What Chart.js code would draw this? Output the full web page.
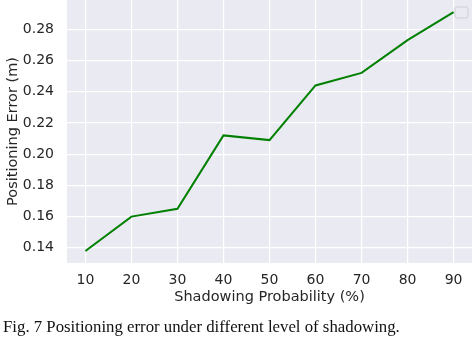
<!DOCTYPE html>
<html lang="en">
<head>
    <meta charset="UTF-8">
    <title>Positioning error vs shadowing</title>
    <script src="https://cdn.jsdelivr.net/npm/chart.js"></script>
    <style>
        html, body { margin: 0; padding: 0; background: #fff; }
        .wrap { position: relative; width: 474px; height: 338px; overflow: hidden; }
        #chartCanvas { position: absolute; left: 0; top: 0; }
        .caption {
            position: absolute; left: 3px; top: 319px;
            font-family: "Liberation Serif", "Times New Roman", serif;
            font-size: 16.8px; line-height: 1; color: #111; white-space: nowrap;
        }
    </style>
</head>
<body>
    <div class="wrap">
        <canvas id="chartCanvas" width="474" height="338"></canvas>
        <div class="caption">Fig. 7 Positioning error under different level of shadowing.</div>
    </div>
    <script>
        // Shadowing probability (%) and the positioning error measured for each
        const shadowing = [10, 20, 30, 40, 50, 60, 70, 80, 90];
        const posError = [0.138, 0.160, 0.165, 0.212, 0.209, 0.244, 0.252, 0.273, 0.291];

        const xTicks = [10, 20, 30, 40, 50, 60, 70, 80, 90];
        const yTicks = [0.14, 0.16, 0.18, 0.20, 0.22, 0.24, 0.26, 0.28];

        const textColor = '#262626';
        const tickFont = { family: 'DejaVu Sans', size: 14 };
        const titleFont = { family: 'DejaVu Sans', size: 14.5 };

        // grey panel behind the plot, like seaborn darkgrid
        const panelBg = {
            id: 'panelBg',
            beforeDraw(chart) {
                const { ctx, chartArea: a } = chart;
                ctx.save();
                ctx.fillStyle = '#EAEAF2';
                ctx.fillRect(a.left, a.top, a.right - a.left, a.bottom - a.top);
                ctx.restore();
            }
        };

        // empty legend frame in the upper right corner
        const emptyLegend = {
            id: 'emptyLegend',
            afterDraw(chart) {
                const { ctx, chartArea: a } = chart;
                const w = 13, h = 11, x = a.right - 4 - w, y = a.top + 7;
                ctx.save();
                ctx.beginPath();
                ctx.roundRect(x, y, w, h, 2);
                ctx.fillStyle = 'rgba(234,234,242,0.8)';
                ctx.fill();
                ctx.strokeStyle = '#cfcfd6';
                ctx.lineWidth = 1;
                ctx.stroke();
                ctx.restore();
            }
        };

        // fixed axis sizes, no extra room for overhanging labels
        function fixSize(prop, size) {
            return s => {
                s[prop] = size;
                s.paddingTop = 0;
                s.paddingBottom = 0;
                s.paddingLeft = 0;
                s.paddingRight = 0;
            };
        }

        const ctx = document.getElementById('chartCanvas').getContext('2d');
        new Chart(ctx, {
            type: 'line',
            data: {
                datasets: [{
                    data: shadowing.map((s, i) => ({ x: s, y: posError[i] })),
                    borderColor: 'green',
                    borderWidth: 2,
                    pointRadius: 0,
                    fill: false,
                    tension: 0
                }]
            },
            options: {
                responsive: false,
                animation: false,
                layout: { autoPadding: false, padding: { left: 5, right: 2, top: 0, bottom: 32 } },
                plugins: { legend: { display: false }, tooltip: { enabled: false } },
                scales: {
                    x: {
                        type: 'linear',
                        min: 6,
                        max: 94,
                        afterBuildTicks: s => { s.ticks = xTicks.map(v => ({ value: v })); },
                        afterFit: fixSize('height', 43),
                        grid: { color: '#ffffff', lineWidth: 1.2, drawTicks: false },
                        border: { display: false },
                        ticks: { color: textColor, font: tickFont, padding: 9, maxRotation: 0 },
                        title: {
                            display: true,
                            text: 'Shadowing Probability (%)',
                            color: textColor,
                            font: titleFont,
                            padding: 0
                        }
                    },
                    y: {
                        type: 'linear',
                        min: 0.1303,
                        max: 0.2987,
                        afterBuildTicks: s => { s.ticks = yTicks.map(v => ({ value: v })); },
                        afterFit: fixSize('width', 62),
                        grid: { color: '#ffffff', lineWidth: 1.2, drawTicks: false },
                        border: { display: false },
                        ticks: {
                            color: textColor, font: tickFont, padding: 13,
                            callback: v => v.toFixed(2)
                        },
                        title: {
                            display: true,
                            text: 'Positioning Error (m)',
                            color: textColor,
                            font: titleFont,
                            padding: 0
                        }
                    }
                }
            },
            plugins: [panelBg, emptyLegend]
        });
    </script>
</body>
</html>
